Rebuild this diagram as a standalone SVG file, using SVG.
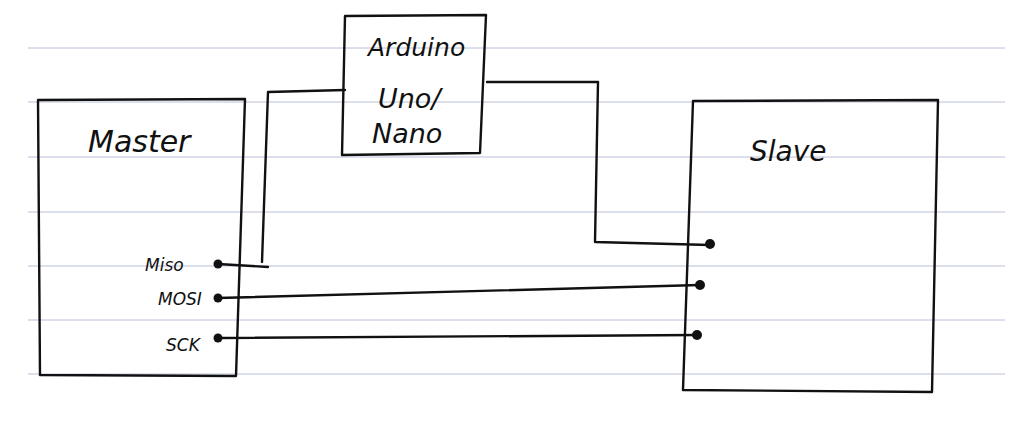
<svg xmlns="http://www.w3.org/2000/svg" width="1023" height="423" viewBox="0 0 1023 423">
<style>
.rule{stroke:#b9c0d8;stroke-width:1}
.ink{fill:none;stroke:#111;stroke-width:2.4;stroke-linecap:round;stroke-linejoin:round}
.t{font-family:"DejaVu Sans",sans-serif;fill:#111;font-weight:300}
.dot{fill:#111}
</style>
<rect width="1023" height="423" fill="#fff"/>
<g id="paper">
<line class="rule" x1="28" y1="48" x2="1005" y2="48"/>
<line class="rule" x1="28" y1="102" x2="1005" y2="102"/>
<line class="rule" x1="28" y1="157" x2="1005" y2="157"/>
<line class="rule" x1="28" y1="212" x2="1005" y2="212"/>
<line class="rule" x1="28" y1="266" x2="1005" y2="266"/>
<line class="rule" x1="28" y1="320" x2="1005" y2="320"/>
<line class="rule" x1="28" y1="374" x2="1005" y2="374"/>
</g>
<g id="master">
<path class="ink" d="M38 100 L245 99 L236 376 L40 375 L38 100"/>
<text class="t" x="88" y="152" font-size="30" font-style="italic">Master</text>
<text class="t" x="145" y="271" font-size="17" font-style="italic">Miso</text>
<text class="t" x="158" y="305" font-size="17" font-style="italic">MOSI</text>
<text class="t" x="166" y="351" font-size="17" font-style="italic">SCK</text>
</g>
<g id="arduino">
<path class="ink" d="M345 16 L486 15 L480 153 L342 155 Z"/>
<text class="t" x="368" y="56" font-size="25" font-style="italic">Arduino</text>
<text class="t" x="378" y="108" font-size="27" font-style="italic">Uno/</text>
<text class="t" x="372" y="143" font-size="27" font-style="italic">Nano</text>
</g>
<g id="slave">
<path class="ink" d="M693 101 L938 100 L932 392 L683 390 M693 101 L683 390"/>
<text class="t" x="750" y="161" font-size="28" font-style="italic">Slave</text>
</g>
<g id="connectors">
<path class="ink" d="M218 264 L268 267 M262 262 L268 92 L345 90"/>
<path class="ink" d="M487 82 L598 82 L595 242 L710 245"/>
<path class="ink" d="M218 298 L700 285"/>
<path class="ink" d="M218 338 L697 335"/>
<circle class="dot" cx="218" cy="264" r="4.5"/>
<circle class="dot" cx="218" cy="298" r="4.5"/>
<circle class="dot" cx="218" cy="338" r="4.5"/>
<circle class="dot" cx="710" cy="244" r="5"/>
<circle class="dot" cx="700" cy="285" r="5"/>
<circle class="dot" cx="697" cy="335" r="5"/>
</g>
</svg>
